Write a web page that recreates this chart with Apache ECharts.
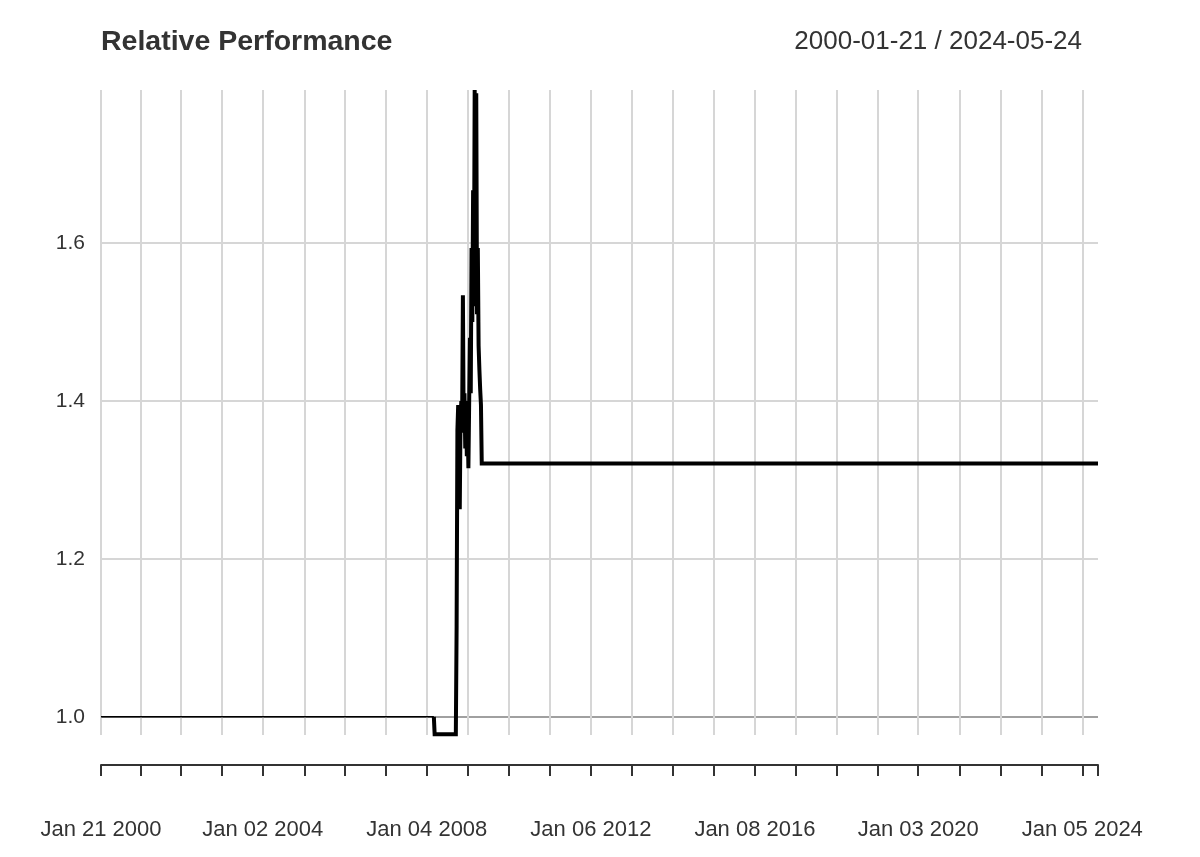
<!DOCTYPE html>
<html><head><meta charset="utf-8">
<script src="https://cdn.jsdelivr.net/npm/echarts@6/dist/echarts.min.js"></script>
<style>html,body{margin:0;padding:0;background:#fff}#c{width:1200px;height:857px}</style>
</head><body><div id="c"></div>
<script>
const chartTitle = 'Relative Performance';
const dateRange = '2000-01-21 / 2024-05-24';

const obsDates = [
  '2000-01-21','2008-03-07','2008-03-14','2008-09-19','2008-09-26',
  '2008-10-03','2008-10-10','2008-10-17','2008-10-24','2008-10-31',
  '2008-11-07','2008-11-14','2008-11-21','2008-11-28','2008-12-05',
  '2008-12-12','2008-12-19','2008-12-26','2009-01-02','2009-01-09',
  '2009-01-16','2009-01-23','2009-01-30','2009-02-06','2009-02-13',
  '2009-02-20','2009-02-27','2009-03-06','2009-03-13','2009-03-20',
  '2009-03-27','2009-04-03','2009-04-10','2009-04-17','2009-04-24',
  '2009-05-01','2009-05-08','2024-05-24'
];
const obsValues = [
  1.000,1.000,0.978,0.978,1.115,
  1.363,1.395,1.300,1.263,1.380,
  1.400,1.370,1.534,1.360,1.410,
  1.340,1.400,1.330,1.380,1.315,
  1.400,1.480,1.410,1.594,1.500,
  1.667,1.520,1.794,1.550,1.790,
  1.510,1.594,1.470,1.440,1.415,
  1.395,1.321,1.321
];
const thinUntil = 1; // early flat stretch drawn with a thin line

const tickDates = [
  '2000-01-21','2001-01-05','2002-01-04','2003-01-03','2004-01-02','2005-01-07',
  '2006-01-06','2007-01-05','2008-01-04','2009-01-02','2010-01-08','2011-01-07',
  '2012-01-06','2013-01-04','2014-01-03','2015-01-02','2016-01-08','2017-01-06',
  '2018-01-05','2019-01-04','2020-01-03','2021-01-08','2022-01-07','2023-01-06',
  '2024-01-05','2024-05-24'
];
const labelDates = ['2000-01-21','2004-01-02','2008-01-04','2012-01-06','2016-01-08','2020-01-03','2024-01-05'];
const yTicks = [1.0, 1.2, 1.4, 1.6];

const MONTHS = ['Jan','Feb','Mar','Apr','May','Jun','Jul','Aug','Sep','Oct','Nov','Dec'];
const ts = s => Date.parse(s + 'T00:00:00Z');
const fmt = v => { const d = new Date(v); return MONTHS[d.getUTCMonth()] + ' ' + String(d.getUTCDate()).padStart(2,'0') + ' ' + d.getUTCFullYear(); };

const pts = obsDates.map((d, i) => [ts(d), obsValues[i]]);
const FONT = '"Liberation Sans", Arial, sans-serif';

const chart = echarts.init(document.getElementById('c'));
chart.setOption({
  animation: false,
  backgroundColor: '#fff',
  textStyle: { fontFamily: FONT },
  graphic: [
    { type: 'text', left: 101, top: 28, style: { text: chartTitle, fontFamily: FONT, fontSize: 28.5, fontWeight: 'bold', fill: '#333' } },
    { type: 'text', right: 118, top: 29, style: { text: dateRange, fontFamily: FONT, fontSize: 26, fill: '#333' } }
  ],
  grid: { left: 101, right: 102, top: 90, bottom: 122, containLabel: false },
  xAxis: {
    type: 'value',
    scale: true,
    min: ts(obsDates[0]),
    max: ts(obsDates[obsDates.length - 1]),
    offset: 30,
    axisLine: { show: true, onZero: false, lineStyle: { color: '#333', width: 2 } },
    axisTick: { show: true, length: 11, lineStyle: { color: '#333', width: 2 }, customValues: tickDates.map(ts) },
    axisLabel: { customValues: labelDates.map(ts), formatter: v => fmt(v), fontSize: 22, color: '#333', fontFamily: FONT, margin: 54, hideOverlap: false },
    splitLine: { show: true, showMinLine: true, showMaxLine: false, lineStyle: { color: '#d6d6d6', width: 2 } }
  },
  yAxis: {
    type: 'value',
    min: 0.977,
    max: 1.794,
    axisLine: { show: false },
    axisTick: { show: false, customValues: yTicks },
    axisLabel: { customValues: yTicks, formatter: v => v.toFixed(1), fontSize: 21, color: '#333', fontFamily: FONT, margin: 16 },
    splitLine: { show: true, showMinLine: true, showMaxLine: true, lineStyle: { color: ['#a0a0a0','#d6d6d6','#d6d6d6','#d6d6d6'], width: 2 } }
  },
  series: [
    { type: 'line', data: pts.slice(0, thinUntil + 1), showSymbol: false, lineStyle: { color: '#000', width: 1.5 }, z: 3 },
    { type: 'line', data: pts.slice(thinUntil), showSymbol: false, lineStyle: { color: '#000', width: 4, join: 'miter' }, z: 4, clip: true }
  ]
});
</script>
</body></html>
